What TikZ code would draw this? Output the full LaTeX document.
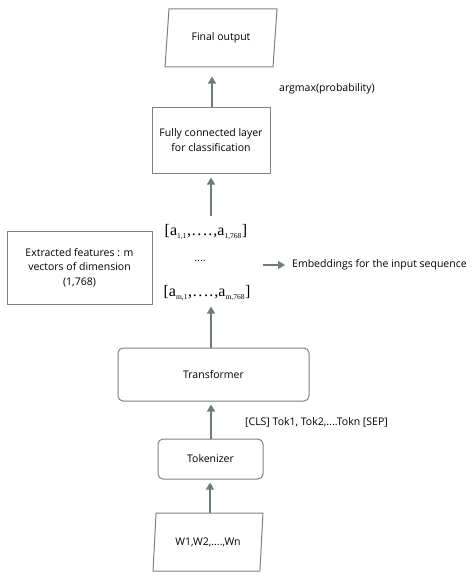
\documentclass[tikz,border=0pt]{standalone}
\usepackage{fontspec}
\setmainfont{Open Sans}
\newfontfamily\vecfont{Liberation Serif}
\usetikzlibrary{shapes.geometric, arrows.meta}
\definecolor{boxline}{RGB}{128,128,128}
\definecolor{arrowgray}{RGB}{112,124,124}
\tikzstyle{block} = [rectangle, text centered, align=center, draw=boxline, line width=1pt, inner sep=2pt, font=\fontsize{10.5}{14.5}\selectfont]
\tikzstyle{layer} = [block, rounded corners=5pt]
\tikzstyle{io} = [trapezium, trapezium left angle=78, trapezium right angle=102, trapezium stretches=true, draw=boxline, line width=1pt, inner sep=0pt, font=\fontsize{10.5}{14.5}\selectfont]
\tikzstyle{vec} = [inner sep=0pt, font=\vecfont\fontsize{16}{16}\selectfont]
\tikzstyle{note} = [inner sep=0pt, font=\fontsize{10.5}{14.5}\selectfont]
\tikzstyle{flow} = [line width=1.3pt, arrowgray, -{Triangle[length=7pt,width=8pt]}]
\newcommand{\sub}[1]{\textsubscript{\fontsize{7.5}{7.5}\selectfont #1}}

\begin{document}
\begin{tikzpicture}[x=1pt, y=-1pt]

    \useasboundingbox (0,0) rectangle (474,578);

    \node (final) [io, minimum width=112pt, minimum height=58pt] at (221,38) {Final output};
    \node (argmax) [note] at (327,89) {argmax(probability)};
    \node (fc) [block, minimum width=118pt, minimum height=66pt] at (211,140) {Fully connected layer\\for classification};

    \node (vtop) [vec] at (206,232) {[a\sub{1,1},\kern1pt.\kern1.5pt.\kern1.5pt.\kern1.5pt.\kern1pt,a\sub{1,768}]};
    \node (vdots) [note] at (200,261) {....};
    \node (vbot) [vec] at (207,293) {[a\sub{m,1},\kern1pt.\kern1.5pt.\kern1.5pt.\kern1.5pt.\kern1pt,a\sub{m,768}]};
    \node (features) [block, minimum width=145pt, minimum height=73pt] at (79.5,267.5) {Extracted features : m\\vectors of dimension\\(1,768)};
    \coordinate (embstart) at (263,265);
    \node (emb) [note, anchor=west] at (292,265) {Embeddings for the input sequence};

    \node (trans) [layer, minimum width=191pt, minimum height=53pt] at (213.5,374.5) {Transformer};
    \node (cls) [note] at (316.5,422) {[CLS] Tok1, Tok2,....Tokn [SEP]};
    \node (tok) [layer, minimum width=105pt, minimum height=40pt] at (210.5,459) {Tokenizer};
    \node (words) [io, minimum width=110pt, minimum height=58pt] at (208,542) {W1,W2,....,Wn};

    \draw [flow, shorten >=9pt] (fc.north -| 212,0) -- (final.south -| 212,0);
    \draw [flow, shorten <=8pt, shorten >=4pt] (fc.south |- vtop.north) -- (fc.south);
    \draw [flow, shorten >=6pt] (trans.north -| 211,0) -- (vbot.south -| 211,0);
    \draw [flow, shorten >=3pt] (tok.north -| 211,0) -- (trans.south -| 211,0);
    \draw [flow, shorten >=3pt] (words.north -| 210,0) -- (tok.south -| 210,0);
    \draw [flow, shorten >=7pt] (embstart) -- (emb.west);

\end{tikzpicture}
\end{document}
